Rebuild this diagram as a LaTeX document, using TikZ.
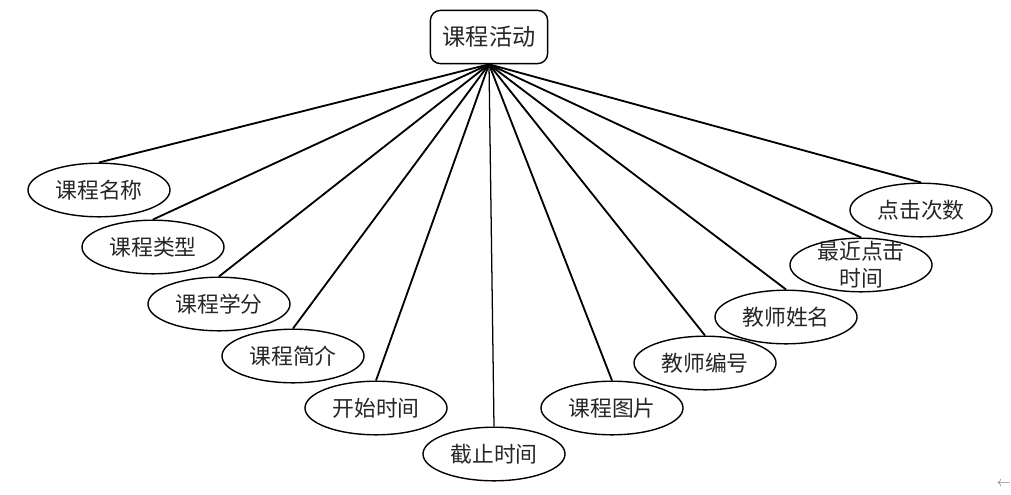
\documentclass[tikz,border=0pt]{standalone}
\usepackage{fontspec}
\usepackage{tikz}
\usetikzlibrary{shapes.geometric}
\newfontfamily\cjk{Noto Sans CJK SC}

\begin{document}
\begin{tikzpicture}[x=0.025cm,y=-0.025cm,
        attr/.style={ellipse,draw,line width=1pt,minimum width=3.55cm,minimum height=1.34cm,inner sep=0pt,font=\cjk\fontsize{15.5}{19}\selectfont,text=black!85},
        entity/.style={rectangle,rounded corners=0.25cm,draw,line width=1pt,minimum width=2.93cm,minimum height=1.33cm,font=\cjk\fontsize{16.5}{20}\selectfont,text=black!85},
        link/.style={line width=1.3pt}]
        \useasboundingbox (0,0) rectangle (1011,494);

        % the entity on top
        \node[entity] (act) at (489,37) {课程活动};

        % attributes, left half
        \node[attr] (name) at (99,190) {课程名称};
        \node[attr] (type) at (153,247) {课程类型};
        \node[attr] (credit) at (219,304) {课程学分};
        \node[attr] (intro) at (293,356) {课程简介};
        \node[attr] (start) at (376,408) {开始时间};
        \node[attr] (stop) at (494,454) {截止时间};
        % attributes, right half
        \node[attr] (pic) at (612,408) {课程图片};
        \node[attr] (tno) at (705,363) {教师编号};
        \node[attr] (tname) at (786,317) {教师姓名};
        \node[attr] (recent) at (861,265) {};
        \node[align=center,font=\cjk\fontsize{15.5}{19}\selectfont,text=black!85] (recenttxt) at (861,265) {最近点击\\时间};
        \node[attr] (clicks) at (921,210) {点击次数};

        \foreach \a in {name,type,credit,intro,start,pic,tno,tname,recent,clicks}
            \draw[link] (act.south) -- (\a.north);
        \draw[line width=0.9pt] (act.south) -- (stop.north);

        \node[text=black!55,font=\normalsize,inner sep=0pt] (mark) at (1004,484) {$\leftarrow$};
    \end{tikzpicture}
\end{document}
